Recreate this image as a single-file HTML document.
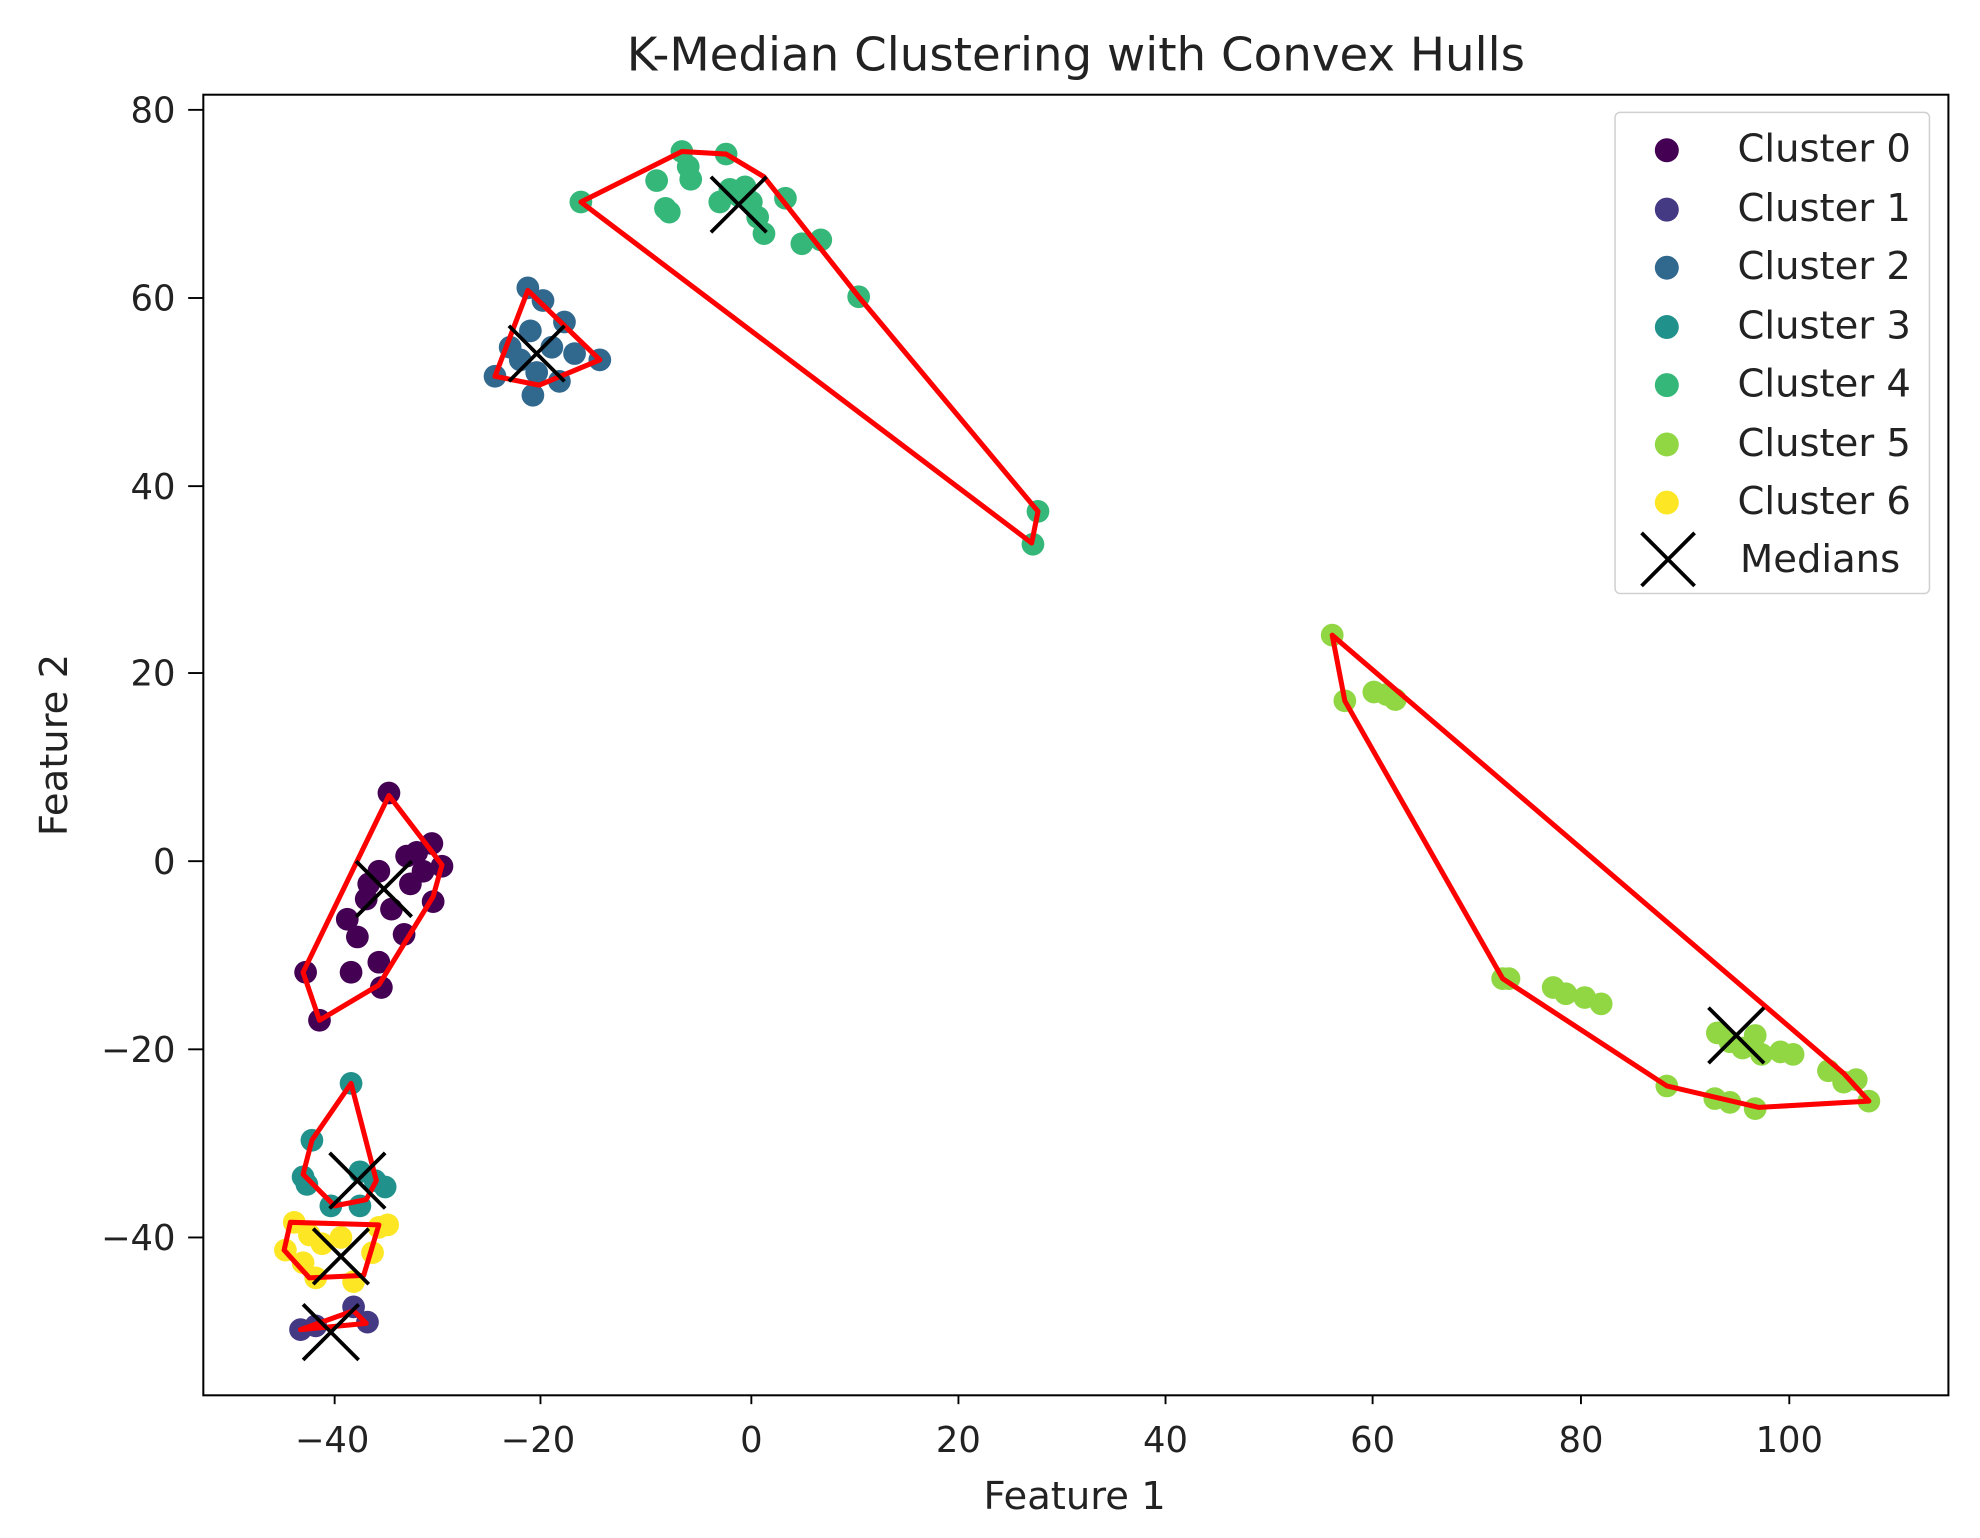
<!DOCTYPE html>
<html><head><meta charset="utf-8"><style>html,body{margin:0;padding:0;background:#fff}svg{display:block}</style></head><body>
<svg width="1980" height="1538" viewBox="0 0 1568 1218" xmlns="http://www.w3.org/2000/svg" font-family="'DejaVu Sans','Liberation Sans',sans-serif">
<rect width="1568" height="1218" fill="#fff"/>
<text x="852" y="56" font-size="37" text-anchor="middle" fill="#222">K-Median Clustering with Convex Hulls</text>
<g stroke="#000" stroke-width="1.5">
<line x1="265" y1="1105" x2="265" y2="1112"/><line x1="428" y1="1105" x2="428" y2="1112"/><line x1="595" y1="1105" x2="595" y2="1112"/><line x1="759" y1="1105" x2="759" y2="1112"/><line x1="923" y1="1105" x2="923" y2="1112"/><line x1="1087" y1="1105" x2="1087" y2="1112"/><line x1="1252" y1="1105" x2="1252" y2="1112"/><line x1="1417" y1="1105" x2="1417" y2="1112"/>
<line x1="149" y1="87" x2="161" y2="87"/><line x1="149" y1="236" x2="161" y2="236"/><line x1="149" y1="385" x2="161" y2="385"/><line x1="149" y1="533" x2="161" y2="533"/><line x1="149" y1="682" x2="161" y2="682"/><line x1="149" y1="831" x2="161" y2="831"/><line x1="149" y1="980" x2="161" y2="980"/>
</g>
<g font-size="28" fill="#222" text-anchor="middle">
<text x="263" y="1150">−40</text><text x="426" y="1150">−20</text><text x="595" y="1150">0</text><text x="759" y="1150">20</text><text x="923" y="1150">40</text><text x="1087" y="1150">60</text><text x="1252" y="1150">80</text><text x="1417" y="1150">100</text>
</g>
<g font-size="28" fill="#222" text-anchor="end">
<text x="139" y="97">80</text><text x="139" y="246">60</text><text x="139" y="395">40</text><text x="139" y="543">20</text><text x="139" y="692">0</text><text x="139" y="841">−20</text><text x="139" y="990">−40</text>
</g>
<text x="851" y="1195" font-size="30.5" text-anchor="middle" fill="#222">Feature 1</text>
<text transform="translate(53,590) rotate(-90)" font-size="30.5" text-anchor="middle" fill="#222">Feature 2</text>

<g fill="#35b779">
<circle cx="460" cy="160" r="9"/><circle cx="540" cy="120" r="9"/><circle cx="545" cy="132" r="9"/><circle cx="547" cy="142" r="9"/><circle cx="575" cy="122" r="9"/><circle cx="520" cy="143" r="9"/><circle cx="527" cy="165" r="9"/><circle cx="530" cy="168" r="9"/><circle cx="578" cy="150" r="9"/><circle cx="590" cy="148" r="9"/><circle cx="595" cy="160" r="9"/><circle cx="600" cy="172" r="9"/><circle cx="605" cy="185" r="9"/><circle cx="622" cy="157" r="9"/><circle cx="635" cy="193" r="9"/><circle cx="650" cy="190" r="9"/><circle cx="680" cy="235" r="9"/><circle cx="822" cy="405" r="9"/><circle cx="818" cy="431" r="9"/><circle cx="585" cy="155" r="9"/><circle cx="570" cy="160" r="9"/>
</g>
<g fill="#31688e">
<circle cx="418" cy="228" r="9"/><circle cx="430" cy="238" r="9"/><circle cx="447" cy="255" r="9"/><circle cx="420" cy="262" r="9"/><circle cx="404" cy="275" r="9"/><circle cx="412" cy="285" r="9"/><circle cx="425" cy="295" r="9"/><circle cx="422" cy="313" r="9"/><circle cx="443" cy="302" r="9"/><circle cx="392" cy="298" r="9"/><circle cx="475" cy="285" r="9"/><circle cx="455" cy="280" r="9"/><circle cx="437" cy="275" r="9"/>
</g>
<g fill="#440154">
<circle cx="308" cy="628" r="9"/><circle cx="322" cy="678" r="9"/><circle cx="330" cy="675" r="9"/><circle cx="342" cy="668" r="9"/><circle cx="350" cy="686" r="9"/><circle cx="343" cy="714" r="9"/><circle cx="320" cy="740" r="9"/><circle cx="300" cy="762" r="9"/><circle cx="278" cy="770" r="9"/><circle cx="283" cy="742" r="9"/><circle cx="275" cy="728" r="9"/><circle cx="292" cy="700" r="9"/><circle cx="300" cy="690" r="9"/><circle cx="290" cy="712" r="9"/><circle cx="310" cy="720" r="9"/><circle cx="302" cy="782" r="9"/><circle cx="253" cy="808" r="9"/><circle cx="242" cy="770" r="9"/><circle cx="325" cy="700" r="9"/><circle cx="335" cy="690" r="9"/>
</g>
<g fill="#21918c">
<circle cx="278" cy="858" r="9"/><circle cx="247" cy="903" r="9"/><circle cx="240" cy="932" r="9"/><circle cx="243" cy="938" r="9"/><circle cx="262" cy="955" r="9"/><circle cx="285" cy="955" r="9"/><circle cx="297" cy="935" r="9"/><circle cx="305" cy="940" r="9"/><circle cx="285" cy="928" r="9"/>
</g>
<g fill="#fde725">
<circle cx="233" cy="968" r="9"/><circle cx="226" cy="990" r="9"/><circle cx="240" cy="1000" r="9"/><circle cx="250" cy="1012" r="9"/><circle cx="280" cy="1015" r="9"/><circle cx="300" cy="972" r="9"/><circle cx="307" cy="970" r="9"/><circle cx="295" cy="992" r="9"/><circle cx="270" cy="980" r="9"/><circle cx="255" cy="985" r="9"/><circle cx="245" cy="978" r="9"/>
</g>
<g fill="#443983">
<circle cx="238" cy="1053" r="9"/><circle cx="280" cy="1035" r="9"/><circle cx="291" cy="1047" r="9"/><circle cx="250" cy="1050" r="9"/>
</g>
<g fill="#90d743">
<circle cx="1055" cy="503" r="9"/><circle cx="1065" cy="555" r="9"/><circle cx="1088" cy="548" r="9"/><circle cx="1098" cy="550" r="9"/><circle cx="1105" cy="554" r="9"/><circle cx="1190" cy="775" r="9"/><circle cx="1195" cy="775" r="9"/><circle cx="1230" cy="782" r="9"/><circle cx="1240" cy="787" r="9"/><circle cx="1255" cy="790" r="9"/><circle cx="1268" cy="795" r="9"/><circle cx="1320" cy="860" r="9"/><circle cx="1358" cy="870" r="9"/><circle cx="1370" cy="873" r="9"/><circle cx="1390" cy="878" r="9"/><circle cx="1360" cy="818" r="9"/><circle cx="1370" cy="825" r="9"/><circle cx="1380" cy="830" r="9"/><circle cx="1390" cy="820" r="9"/><circle cx="1395" cy="835" r="9"/><circle cx="1410" cy="833" r="9"/><circle cx="1420" cy="835" r="9"/><circle cx="1448" cy="848" r="9"/><circle cx="1460" cy="857" r="9"/><circle cx="1470" cy="855" r="9"/><circle cx="1480" cy="872" r="9"/>
</g>

<g fill="none" stroke="#ff0000" stroke-width="4" stroke-linejoin="round">
<polygon points="460,160 540,120 575,122 605,140 680,235 822,405 817,430"/>
<polygon points="418,230 475,285 427,305 392,298"/>
<polygon points="308,630 350,685 343,710 300,780 253,808 240,770"/>
<polygon points="278,858 298,935 290,950 265,955 240,930 247,903"/>
<polygon points="230,968 300,970 288,1010 245,1012 225,990"/>
<polygon points="238,1053 280,1038 290,1048"/>
<polygon points="1055,503 1065,555 1190,775 1320,860 1393,877 1480,872 1460,850"/>
</g>

<g stroke="#000" stroke-width="3">
<path d="M563,140 L607,184 M607,140 L563,184"/>
<path d="M403,258 L447,302 M447,258 L403,302"/>
<path d="M282,682 L326,726 M326,682 L282,726"/>
<path d="M261,913 L305,957 M305,913 L261,957"/>
<path d="M248,973 L292,1017 M292,973 L248,1017"/>
<path d="M240,1033 L284,1077 M284,1033 L240,1077"/>
<path d="M1353,798 L1397,842 M1397,798 L1353,842"/>
</g>

<rect x="1279" y="89" width="249" height="381" rx="4" fill="#fff" fill-opacity="0.8" stroke="#d0d0d0" stroke-width="1.2"/>
<g>
<circle cx="1320" cy="119" r="9.5" fill="#440154"/>
<circle cx="1320" cy="166" r="9.5" fill="#443983"/>
<circle cx="1320" cy="212" r="9.5" fill="#31688e"/>
<circle cx="1320" cy="259" r="9.5" fill="#21918c"/>
<circle cx="1320" cy="305" r="9.5" fill="#35b779"/>
<circle cx="1320" cy="352" r="9.5" fill="#90d743"/>
<circle cx="1320" cy="398" r="9.5" fill="#fde725"/>
<path d="M1300,422 L1342,464 M1342,422 L1300,464" stroke="#000" stroke-width="3"/>
</g>
<g font-size="30.5" fill="#222">
<text x="1376" y="128">Cluster 0</text>
<text x="1376" y="175">Cluster 1</text>
<text x="1376" y="221">Cluster 2</text>
<text x="1376" y="268">Cluster 3</text>
<text x="1376" y="314">Cluster 4</text>
<text x="1376" y="361">Cluster 5</text>
<text x="1376" y="407">Cluster 6</text>
<text x="1378" y="453">Medians</text>
</g>
<rect x="161" y="75" width="1382" height="1030" fill="none" stroke="#000" stroke-width="1.6"/>
</svg>
</body></html>
